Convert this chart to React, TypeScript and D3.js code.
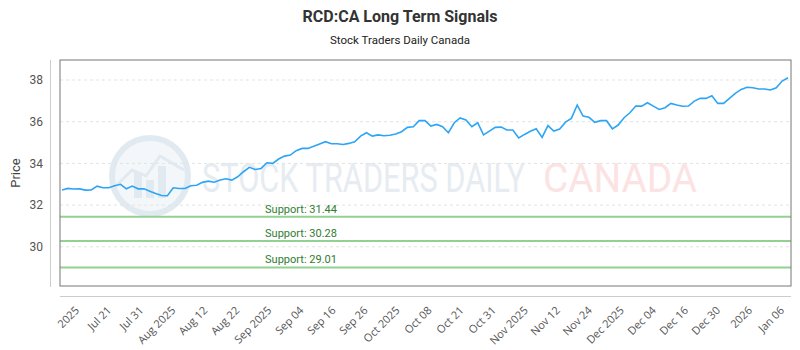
import React from 'react';
import * as d3 from 'd3';

// daily closes
const prices = [
  32.72, 32.80, 32.77, 32.78, 32.72, 32.73, 32.91, 32.83, 32.83, 32.93, 33.00, 32.78, 32.91, 32.78, 32.78, 32.67,
  32.56, 32.46, 32.45, 32.83, 32.80, 32.80, 32.93, 32.95, 33.09, 33.15, 33.10, 33.20, 33.26, 33.20, 33.36, 33.60,
  33.81, 33.71, 33.76, 34.03, 34.00, 34.21, 34.35, 34.40, 34.61, 34.72, 34.72, 34.82, 34.93, 35.04, 34.94, 34.94,
  34.91, 34.96, 35.04, 35.31, 35.47, 35.31, 35.37, 35.33, 35.35, 35.41, 35.52, 35.73, 35.76, 36.05, 36.05,
  35.79, 35.87, 35.76, 35.47, 35.95, 36.18, 36.08, 35.76, 35.95, 35.37, 35.55, 35.73, 35.74, 35.60, 35.60, 35.22,
  35.39, 35.54, 35.66, 35.25, 35.81, 35.55, 35.65, 35.98, 36.16, 36.80, 36.27, 36.21, 35.97, 36.05, 36.05, 35.66,
  35.84, 36.19, 36.43, 36.75, 36.75, 36.91, 36.75, 36.59, 36.67, 36.88, 36.80, 36.74, 36.75, 36.99, 37.12, 37.12,
  37.25, 36.88, 36.88, 37.12, 37.36, 37.55, 37.65, 37.63, 37.57, 37.57, 37.52, 37.63, 37.95, 38.11,
];

const tickLabels = [
  '2025', 'Jul 21', 'Jul 31', 'Aug 2025', 'Aug 12', 'Aug 22', 'Sep 2025', 'Sep 04', 'Sep 16', 'Sep 26',
  'Oct 2025', 'Oct 08', 'Oct 21', 'Oct 31', 'Nov 2025', 'Nov 12', 'Nov 24', 'Dec 2025', 'Dec 04', 'Dec 16',
  'Dec 30', '2026', 'Jan 06',
];

const supports = [31.44, 30.28, 29.01];
const yTicks = [30, 32, 34, 36, 38];

export default function App() {
  const plot = {left: 60, right: 791, top: 60, bottom: 286};

  const x = d3.scaleLinear().domain([0, prices.length - 1]).range([62, 788]);
  const y = d3.scaleLinear().domain([28.12, 38.96]).range([plot.bottom, plot.top]);
  const xTick = d3.scalePoint<string>().domain(tickLabels).range([80, 785]);

  const line = d3.line<number>()
    .x((d, i) => x(i))
    .y(d => y(d));

  return (
    <svg width={800} height={350} style={{position: 'fixed', left: 0, top: 0, background: '#fff'}}
         fontFamily="Roboto, 'Noto Sans', sans-serif">
      <text x={400} y={22} textAnchor="middle" fontSize={16} fontWeight="bold" fill="#333">RCD:CA Long Term Signals</text>
      <text x={400} y={44} textAnchor="middle" fontSize={11.5} fill="#222">Stock Traders Daily Canada</text>

      {/* watermark */}
      <g opacity={1}>
        <circle cx={150} cy={176} r={38} fill="#f3f7fa" stroke="#e2eaf1" strokeWidth={6}/>
        <rect x={134} y={172} width={8} height={26} fill="#e2eaf1"/>
        <rect x={146} y={180} width={8} height={18} fill="#e2eaf1"/>
        <rect x={158} y={166} width={8} height={32} fill="#e2eaf1"/>
        <polyline points="116,186 132,170 146,176 160,156 184,170" fill="none" stroke="#e2eaf1" strokeWidth={3}/>
        <text x={202} y={192} fontSize={41} fill="#e6ecf1" textLength={323} lengthAdjust="spacingAndGlyphs">STOCK TRADERS DAILY</text>
        <text x={543} y={192} fontSize={41} fill="#fce3e3" textLength={154} lengthAdjust="spacingAndGlyphs">CANADA</text>
      </g>

      {/* grid */}
      {yTicks.map(t => (
        <line key={t} x1={plot.left} x2={plot.right} y1={y(t)} y2={y(t)} stroke="#e3e3e3" strokeDasharray="3,3"/>
      ))}

      {/* support lines */}
      {supports.map(s => (
        <g key={s}>
          <line x1={plot.left} x2={plot.right} y1={y(s)} y2={y(s)} stroke="#94d094" strokeWidth={2}/>
          <text x={301} y={y(s) - 4} textAnchor="middle" fontSize={11} fill="#2f7d2f">Support: {s.toFixed(2)}</text>
        </g>
      ))}

      <path d={line(prices) || ''} fill="none" stroke="#2da5f5" strokeWidth={1.6}/>

      {/* frame and axes */}
      <rect x={plot.left} y={plot.top} width={plot.right - plot.left} height={plot.bottom - plot.top}
            fill="none" stroke="#777" strokeWidth={1}/>
      <line x1={50.5} x2={50.5} y1={plot.top} y2={plot.bottom + 1} stroke="#ccc"/>
      <line x1={plot.left} x2={plot.right} y1={296.5} y2={296.5} stroke="#ccc"/>

      {yTicks.map(t => (
        <text key={t} x={43} y={y(t)} dy="0.35em" textAnchor="end" fontSize={12} fill="#555">{t}</text>
      ))}
      <text transform="translate(20,173) rotate(-90)" textAnchor="middle" fontSize={13} fill="#444">Price</text>

      {tickLabels.map(l => (
        <text key={l} transform={`translate(${xTick(l)},311) rotate(-45)`} textAnchor="end" fontSize={11}
              fontFamily="'Open Sans', sans-serif" fill="#555">{l}</text>
      ))}
    </svg>
  );
}
